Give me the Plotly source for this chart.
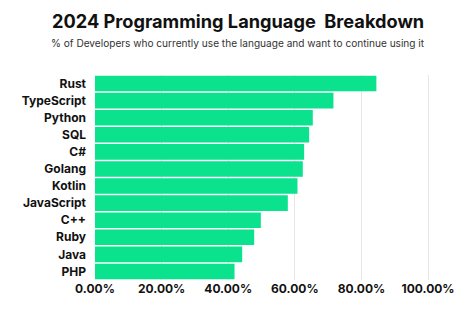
import plotly.graph_objects as go

languages = ["Rust", "TypeScript", "Python", "SQL", "C#", "Golang", "Kotlin",
             "JavaScript", "C++", "Ruby", "Java", "PHP"]
values = [0.845, 0.716, 0.654, 0.643, 0.628, 0.624, 0.608, 0.579, 0.498, 0.478, 0.442, 0.419]
tick_vals = [0, 0.2, 0.4, 0.6, 0.8, 1.0]

L, R, T, B = 94.5, 36, 75, 46
W, H = 474, 326
pw, ph = W - L - R, H - T - B

fig = go.Figure(go.Bar(
    x=values, y=languages, orientation="h",
    marker=dict(color="#0ae28e", line=dict(width=0)),
))

fig.update_layout(
    width=W, height=H,
    margin=dict(l=L, r=R, t=T, b=B),
    paper_bgcolor="white", plot_bgcolor="white",
    bargap=0.09,
    showlegend=False,
    font=dict(family="Inter", color="#111"),
    xaxis=dict(range=[0, 1.03], tickvals=tick_vals, tickformat=".2%",
               showgrid=True, gridcolor="#e6e6e6", gridwidth=1,
               zeroline=False, showline=False, ticks="",
               tickfont=dict(family="Inter", size=12, color="#111", weight="bold")),
    yaxis=dict(autorange="reversed", showgrid=False, ticks="", ticklen=0,
               ticklabelstandoff=8,
               tickfont=dict(family="Inter", size=12, color="#111", weight="bold")),
    annotations=[
        dict(text="<b>2024 Programming Language  Breakdown</b>",
             x=(238 - L) / pw, y=1 + (T - 21) / ph, yanchor="middle",
             xref="paper", yref="paper", showarrow=False, font=dict(size=18.2, color="#111")),
        dict(text="% of Developers who currently use the language and want to continue using it",
             x=(238 - L) / pw, y=1 + (T - 43) / ph, yanchor="middle",
             xref="paper", yref="paper", showarrow=False,
             font=dict(size=10.1, color="#333")),
    ],
)

fig.write_html("out.html")
